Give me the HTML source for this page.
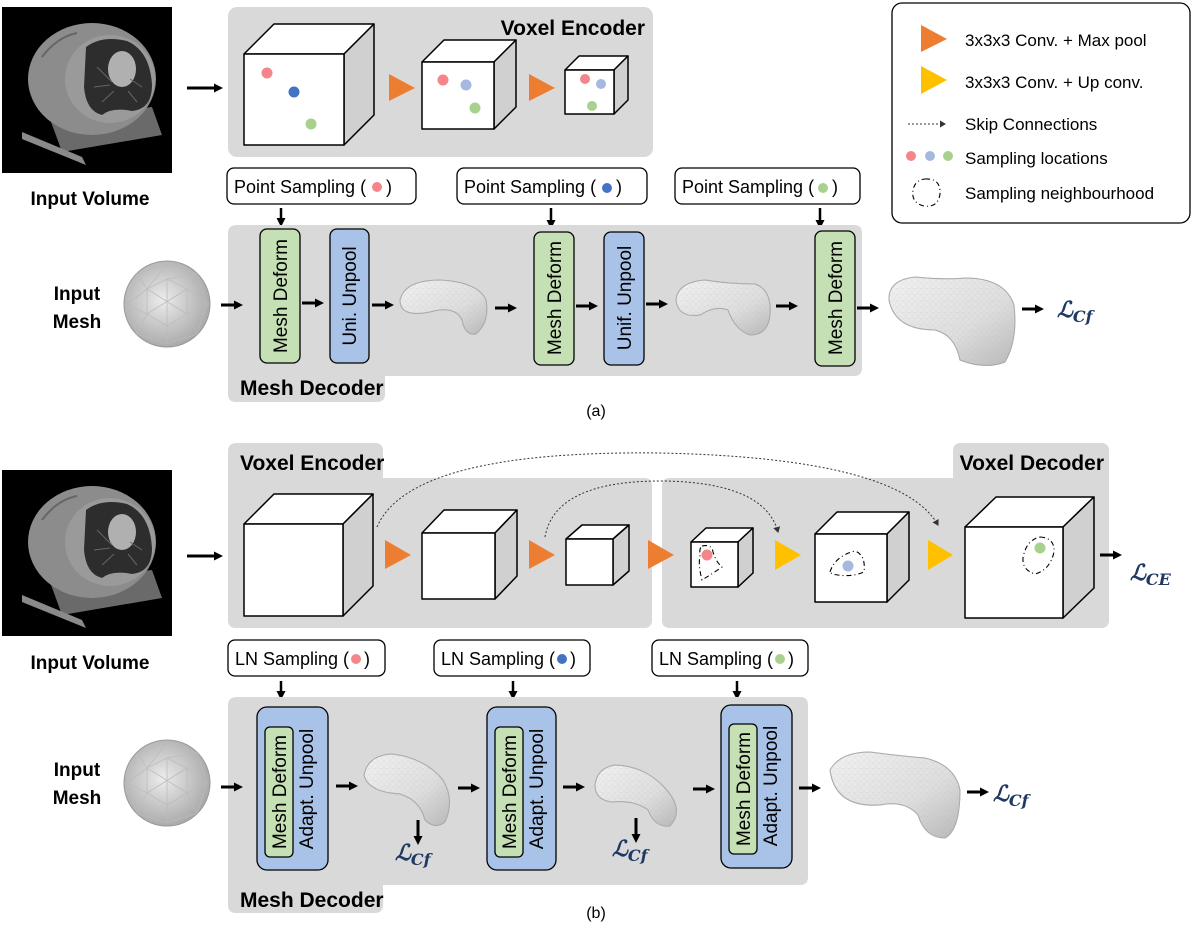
<!DOCTYPE html>
<html><head><meta charset="utf-8"><style>
html,body{margin:0;padding:0;background:#fff}
svg{display:block}
text{font-family:"Liberation Sans",sans-serif}
.b{font-weight:bold}
.L{font-family:"DejaVu Serif",serif;font-weight:bold;font-style:italic;fill:#1f3864}
</style></head><body>
<svg width="1193" height="929" viewBox="0 0 1193 929" xmlns="http://www.w3.org/2000/svg">
<defs>
<marker id="ah" markerWidth="9" markerHeight="9" refX="6" refY="4.5" orient="auto" markerUnits="userSpaceOnUse"><path d="M0,0 L9,4.5 L0,9 Z" fill="#000"/></marker>
<marker id="sh" markerWidth="7" markerHeight="7" refX="5" refY="3.5" orient="auto" markerUnits="userSpaceOnUse"><path d="M0,0 L6,3.5 L0,7 Z" fill="#333"/></marker>
<radialGradient id="sg" cx="45%" cy="45%" r="60%"><stop offset="0" stop-color="#ececec"/><stop offset="1" stop-color="#a5a5a5"/></radialGradient>
<linearGradient id="mg" x1="0" y1="0" x2="1" y2="1"><stop offset="0" stop-color="#f2f2f2"/><stop offset="0.6" stop-color="#dedede"/><stop offset="1" stop-color="#b8b8b8"/></linearGradient>
<pattern id="tri" width="6" height="6" patternUnits="userSpaceOnUse"><path d="M0,6 L3,0 L6,6 M0,0 H6" stroke="#bbb" stroke-width="0.4" fill="none"/></pattern>
<g id="ct">
<rect x="0" y="0" width="170" height="166" fill="#000"/>
<path d="M48,112 L150,100 L160,128 L60,145 Z" fill="#6a6a6a"/>
<path d="M20,125 L80,150 L84,158 L20,132 Z" fill="#8a8a8a"/>
<ellipse cx="90" cy="72" rx="64" ry="56" fill="#8c8c8c"/>
<ellipse cx="108" cy="72" rx="45" ry="44" fill="#9a9a9a"/>
<path d="M84,40 Q100,28 125,34 Q148,44 150,78 Q150,102 130,104 Q110,100 100,108 Q84,104 82,80 Z" fill="#2d2d2d"/>
<ellipse cx="120" cy="62" rx="14" ry="18" fill="#b0b0b0"/>
<path d="M95,60 L110,75 M92,80 L108,78 M100,95 L112,84 M140,80 L128,72 M135,95 L126,84" stroke="#666" stroke-width="1"/>
<path d="M40,50 Q55,30 75,26" stroke="#666" stroke-width="2" fill="none"/>
</g>
<g id="sph">
<circle cx="0" cy="0" r="43" fill="url(#sg)" stroke="#999" stroke-width="1"/>
<g stroke="#bbb" stroke-width="0.8" fill="none" opacity="0.9">
<path d="M-30,-30 L0,-40 L30,-30 L40,0 L30,30 L0,40 L-30,30 L-40,0 Z"/>
<path d="M-20,-15 L0,-25 L20,-15 L20,10 L0,22 L-20,10 Z"/>
<path d="M-40,0 L-20,-15 M-30,-30 L-20,-15 L0,-40 M0,-25 L30,-30 M20,-15 L40,0 L20,10 L30,30 M0,22 L0,40 M-20,10 L-30,30 M-20,10 L-40,0 M-20,-15 L20,10 M20,-15 L-20,10 M0,-25 L0,22"/>
</g>
</g>
</defs>

<!-- ================= (a) ================= -->
<use href="#ct" x="2" y="7"/>
<text x="90" y="205" class="b" font-size="19" text-anchor="middle">Input Volume</text>
<line x1="187" y1="88" x2="220" y2="88" stroke="#000" stroke-width="3" marker-end="url(#ah)"/>

<rect x="228" y="7" width="425" height="150" rx="9" fill="#d9d9d9"/>
<text x="645" y="35" class="b" font-size="21" text-anchor="end">Voxel Encoder</text>
<g stroke="#000" stroke-width="1.5" stroke-linejoin="round">
<polygon points="244,54 274,24 374,24 344,54" fill="#fff"/>
<polygon points="344,54 374,24 374,115 344,145" fill="#d0d0d0"/>
<rect x="244" y="54" width="100" height="91" fill="#fff"/>
<polygon points="422,62 444,40 516,40 494,62" fill="#fff"/>
<polygon points="494,62 516,40 516,107 494,129" fill="#d0d0d0"/>
<rect x="422" y="62" width="72" height="67" fill="#fff"/>
<polygon points="565,70 579,56 628,56 614,70" fill="#fff"/>
<polygon points="614,70 628,56 628,100 614,114" fill="#d0d0d0"/>
<rect x="565" y="70" width="49" height="44" fill="#fff"/>
</g>
<polygon points="389,74 415,88 389,101" fill="#ed7d31"/>
<polygon points="529,74 555,88 529,101" fill="#ed7d31"/>
<circle cx="267" cy="73" r="5.5" fill="#f4868a"/><circle cx="294" cy="92" r="5.5" fill="#4472c4"/><circle cx="311" cy="124" r="5.5" fill="#a9d18e"/>
<circle cx="443" cy="80" r="5.5" fill="#f4868a"/><circle cx="466" cy="85" r="5.5" fill="#a4b8e0"/><circle cx="475" cy="108" r="5.5" fill="#a9d18e"/>
<circle cx="585" cy="79" r="5" fill="#f4868a"/><circle cx="601" cy="84" r="5" fill="#a4b8e0"/><circle cx="592" cy="106" r="5" fill="#a9d18e"/>

<g fill="#fff" stroke="#000" stroke-width="1.3">
<rect x="227" y="168" width="189" height="36" rx="7"/>
<rect x="457" y="168" width="190" height="36" rx="7"/>
<rect x="675" y="168" width="185" height="36" rx="7"/>
</g>
<g font-size="18">
<text x="234" y="193">Point Sampling (</text><circle cx="377" cy="187" r="5" fill="#f4868a"/><text x="386" y="193">)</text>
<text x="464" y="193">Point Sampling (</text><circle cx="607" cy="188" r="5" fill="#4472c4"/><text x="616" y="193">)</text>
<text x="682" y="193">Point Sampling (</text><circle cx="823" cy="188" r="5" fill="#a9d18e"/><text x="832" y="193">)</text>
</g>
<g stroke="#000" stroke-width="2.5">
<line x1="281" y1="208" x2="281" y2="224" marker-end="url(#ah)"/>
<line x1="551" y1="208" x2="551" y2="226" marker-end="url(#ah)"/>
<line x1="820" y1="208" x2="820" y2="226" marker-end="url(#ah)"/>
</g>

<path d="M237,225 H854 Q862,225 862,233 V368 Q862,376 854,376 H385 V394 Q385,402 377,402 H236 Q228,402 228,394 V233 Q228,225 237,225 Z" fill="#d9d9d9"/>
<text x="240" y="395" class="b" font-size="21">Mesh Decoder</text>
<g stroke="#000" stroke-width="1.3">
<rect x="260" y="229" width="40" height="134" rx="7" fill="#c5e0b4"/>
<rect x="330" y="229" width="39" height="134" rx="7" fill="#a9c2e8"/>
<rect x="534" y="232" width="40" height="133" rx="7" fill="#c5e0b4"/>
<rect x="604" y="232" width="40" height="133" rx="7" fill="#a9c2e8"/>
<rect x="815" y="231" width="40" height="135" rx="7" fill="#c5e0b4"/>
</g>
<g font-size="19" text-anchor="middle">
<text transform="translate(287,296) rotate(-90)">Mesh Deform</text>
<text transform="translate(356,296) rotate(-90)">Uni. Unpool</text>
<text transform="translate(561,298) rotate(-90)">Mesh Deform</text>
<text transform="translate(631,298) rotate(-90)">Unif. Unpool</text>
<text transform="translate(842,298) rotate(-90)">Mesh Deform</text>
</g>
<text x="77" y="300" class="b" font-size="19" text-anchor="middle">Input</text>
<text x="77" y="328" class="b" font-size="19" text-anchor="middle">Mesh</text>
<use href="#sph" x="167" y="304"/>
<g stroke="#000" stroke-width="3">
<line x1="221" y1="305" x2="240" y2="305" marker-end="url(#ah)"/>
<line x1="302" y1="303" x2="321" y2="303" marker-end="url(#ah)"/>
<line x1="372" y1="305" x2="391" y2="305" marker-end="url(#ah)"/>
<line x1="495" y1="308" x2="514" y2="308" marker-end="url(#ah)"/>
<line x1="576" y1="306" x2="595" y2="306" marker-end="url(#ah)"/>
<line x1="646" y1="304" x2="665" y2="304" marker-end="url(#ah)"/>
<line x1="776" y1="306" x2="795" y2="306" marker-end="url(#ah)"/>
<line x1="857" y1="308" x2="876" y2="308" marker-end="url(#ah)"/>
<line x1="1022" y1="309" x2="1041" y2="309" marker-end="url(#ah)"/>
</g>
<g stroke="#aaa" stroke-width="1">
<path d="M400,300 Q405,280 440,280 Q478,282 486,300 Q490,322 476,334 Q465,336 462,320 Q455,305 430,312 Q400,318 400,300 Z" fill="url(#mg)"/>
<path d="M400,300 Q405,280 440,280 Q478,282 486,300 Q490,322 476,334 Q465,336 462,320 Q455,305 430,312 Q400,318 400,300 Z" fill="url(#tri)" opacity="0.4"/>
<path d="M676,300 Q678,282 705,280 Q730,284 755,284 Q772,290 770,315 Q768,335 750,335 Q735,330 728,310 Q715,305 700,315 Q678,318 676,300 Z" fill="url(#mg)"/>
<path d="M676,300 Q678,282 705,280 Q730,284 755,284 Q772,290 770,315 Q768,335 750,335 Q735,330 728,310 Q715,305 700,315 Q678,318 676,300 Z" fill="url(#tri)" opacity="0.4"/>
<path d="M889,300 Q888,280 915,277 Q945,280 965,278 Q1005,278 1014,305 Q1018,340 1005,362 Q985,370 960,360 Q955,335 935,330 Q895,330 889,300 Z" fill="url(#mg)"/>
<path d="M889,300 Q888,280 915,277 Q945,280 965,278 Q1005,278 1014,305 Q1018,340 1005,362 Q985,370 960,360 Q955,335 935,330 Q895,330 889,300 Z" fill="url(#tri)" opacity="0.4"/>
</g>
<text x="1057" y="317" class="L" font-size="22">ℒ<tspan font-size="16" dy="5">Cf</tspan></text>
<text x="596" y="416" font-size="16" text-anchor="middle">(a)</text>

<!-- legend -->
<rect x="892" y="3" width="298" height="220" rx="10" fill="#fff" stroke="#000" stroke-width="1.3"/>
<polygon points="921,25 947,39 921,52" fill="#ed7d31"/>
<polygon points="921,66 947,80 921,94" fill="#ffc000"/>
<line x1="908" y1="124" x2="945" y2="124" stroke="#333" stroke-width="1" stroke-dasharray="2,2" marker-end="url(#sh)"/>
<circle cx="911" cy="156" r="5" fill="#f4868a"/><circle cx="930" cy="156" r="5" fill="#a4b8e0"/><circle cx="948" cy="156" r="5" fill="#a9d18e"/>
<path d="M925,179 Q941,178 940,194 Q938,208 924,206 Q911,203 913,190 Q915,180 925,179 Z" fill="none" stroke="#000" stroke-width="1.1" stroke-dasharray="5,3,1,3"/>
<g font-size="17">
<text x="965" y="46">3x3x3 Conv. + Max pool</text>
<text x="965" y="88">3x3x3 Conv. + Up conv.</text>
<text x="965" y="130">Skip Connections</text>
<text x="965" y="164">Sampling locations</text>
<text x="965" y="199">Sampling neighbourhood</text>
</g>

<!-- ================= (b) ================= -->
<use href="#ct" x="2" y="470"/>
<text x="90" y="669" class="b" font-size="19" text-anchor="middle">Input Volume</text>
<line x1="187" y1="556" x2="220" y2="556" stroke="#000" stroke-width="3" marker-end="url(#ah)"/>

<path d="M237,443 H375 Q383,443 383,451 V478 H644 Q652,478 652,486 V620 Q652,628 644,628 H236 Q228,628 228,620 V451 Q228,443 237,443 Z" fill="#d9d9d9"/>
<text x="240" y="470" class="b" font-size="21">Voxel Encoder</text>
<path d="M670,478 H953 V451 Q953,443 961,443 H1101 Q1109,443 1109,451 V620 Q1109,628 1101,628 H670 Q662,628 662,620 V486 Q662,478 670,478 Z" fill="#d9d9d9"/>
<text x="1104" y="470" class="b" font-size="21" text-anchor="end">Voxel Decoder</text>

<g stroke="#000" stroke-width="1.5" stroke-linejoin="round">
<polygon points="244,524 274,494 373,494 343,524" fill="#fff"/>
<polygon points="343,524 373,494 373,586 343,616" fill="#d0d0d0"/>
<rect x="244" y="524" width="99" height="92" fill="#fff"/>
<polygon points="422,533 444,510 517,510 495,533" fill="#fff"/>
<polygon points="495,533 517,510 517,576 495,599" fill="#d0d0d0"/>
<rect x="422" y="533" width="73" height="66" fill="#fff"/>
<polygon points="566,539 582,525 629,525 613,539" fill="#fff"/>
<polygon points="613,539 629,525 629,571 613,585" fill="#d0d0d0"/>
<rect x="566" y="539" width="47" height="46" fill="#fff"/>
<polygon points="691,542 706,528 753,528 738,542" fill="#fff"/>
<polygon points="738,542 753,528 753,573 738,587" fill="#d0d0d0"/>
<rect x="691" y="542" width="47" height="45" fill="#fff"/>
<polygon points="815,534 837,512 909,512 887,534" fill="#fff"/>
<polygon points="887,534 909,512 909,580 887,602" fill="#d0d0d0"/>
<rect x="815" y="534" width="72" height="68" fill="#fff"/>
<polygon points="965,527 996,497 1094,497 1063,527" fill="#fff"/>
<polygon points="1063,527 1094,497 1094,588 1063,618" fill="#d0d0d0"/>
<rect x="965" y="527" width="98" height="91" fill="#fff"/>
</g>
<polygon points="385,540 411,555 385,569" fill="#ed7d31"/>
<polygon points="529,540 555,555 529,569" fill="#ed7d31"/>
<polygon points="648,540 674,555 648,569" fill="#ed7d31"/>
<polygon points="775,540 801,555 775,570" fill="#ffc000"/>
<polygon points="928,540 953,555 928,570" fill="#ffc000"/>

<circle cx="707" cy="555" r="5.5" fill="#f4868a"/>
<path d="M702,546 Q712,544 713,552 Q716,562 722,567 Q712,574 702,580 Q698,565 700,556 Q699,548 702,546 Z" fill="none" stroke="#000" stroke-width="1.1" stroke-dasharray="5,3,1,3"/>
<circle cx="848" cy="566" r="5.5" fill="#a4b8e0"/>
<path d="M830,572 Q835,556 855,551 Q866,555 864,572 Q850,578 832,574 Z" fill="none" stroke="#000" stroke-width="1.1" stroke-dasharray="5,3,1,3"/>
<circle cx="1040" cy="548" r="5.5" fill="#a9d18e"/>
<path d="M1040,537 Q1055,538 1054,552 Q1050,570 1035,574 Q1022,570 1023,558 Q1026,540 1040,537 Z" fill="none" stroke="#000" stroke-width="1.1" stroke-dasharray="5,3,1,3"/>

<path d="M377,527 Q410,450 660,453 Q900,458 938,525" fill="none" stroke="#333" stroke-width="1" stroke-dasharray="2,2" marker-end="url(#sh)"/>
<path d="M545,537 Q555,480 665,481 Q765,483 778,532" fill="none" stroke="#333" stroke-width="1" stroke-dasharray="2,2" marker-end="url(#sh)"/>
<line x1="1100" y1="555" x2="1119" y2="555" stroke="#000" stroke-width="3" marker-end="url(#ah)"/>
<text x="1130" y="580" class="L" font-size="22">ℒ<tspan font-size="16" dy="5">CE</tspan></text>

<g fill="#fff" stroke="#000" stroke-width="1.3">
<rect x="228" y="640" width="157" height="36" rx="7"/>
<rect x="434" y="640" width="156" height="36" rx="7"/>
<rect x="652" y="640" width="156" height="36" rx="7"/>
</g>
<g font-size="18">
<text x="235" y="665">LN Sampling (</text><circle cx="356" cy="659" r="5" fill="#f4868a"/><text x="364" y="665">)</text>
<text x="441" y="665">LN Sampling (</text><circle cx="562" cy="659" r="5" fill="#4472c4"/><text x="570" y="665">)</text>
<text x="659" y="665">LN Sampling (</text><circle cx="780" cy="659" r="5" fill="#a9d18e"/><text x="788" y="665">)</text>
</g>
<g stroke="#000" stroke-width="2.5">
<line x1="281" y1="681" x2="281" y2="697" marker-end="url(#ah)"/>
<line x1="513" y1="681" x2="513" y2="697" marker-end="url(#ah)"/>
<line x1="737" y1="681" x2="737" y2="697" marker-end="url(#ah)"/>
</g>
<path d="M237,697 H800 Q808,697 808,705 V877 Q808,885 800,885 H383 V905 Q383,913 375,913 H236 Q228,913 228,905 V705 Q228,697 237,697 Z" fill="#d9d9d9"/>
<text x="240" y="907" class="b" font-size="21">Mesh Decoder</text>
<g stroke="#000" stroke-width="1.3">
<rect x="257" y="707" width="71" height="163" rx="10" fill="#a9c2e8"/>
<rect x="265" y="727" width="28" height="130" rx="5" fill="#c5e0b4"/>
<rect x="487" y="707" width="69" height="163" rx="10" fill="#a9c2e8"/>
<rect x="495" y="727" width="28" height="130" rx="5" fill="#c5e0b4"/>
<rect x="721" y="705" width="71" height="163" rx="10" fill="#a9c2e8"/>
<rect x="729" y="724" width="28" height="130" rx="5" fill="#c5e0b4"/>
</g>
<g font-size="19" text-anchor="middle">
<text transform="translate(286,792) rotate(-90)">Mesh Deform</text>
<text transform="translate(313,789) rotate(-90)">Adapt. Unpool</text>
<text transform="translate(516,792) rotate(-90)">Mesh Deform</text>
<text transform="translate(543,789) rotate(-90)">Adapt. Unpool</text>
<text transform="translate(750,789) rotate(-90)">Mesh Deform</text>
<text transform="translate(777,786) rotate(-90)">Adapt. Unpool</text>
</g>
<text x="77" y="776" class="b" font-size="19" text-anchor="middle">Input</text>
<text x="77" y="804" class="b" font-size="19" text-anchor="middle">Mesh</text>
<use href="#sph" x="167" y="783"/>
<g stroke="#000" stroke-width="3">
<line x1="221" y1="787" x2="240" y2="787" marker-end="url(#ah)"/>
<line x1="336" y1="786" x2="355" y2="786" marker-end="url(#ah)"/>
<line x1="458" y1="788" x2="477" y2="788" marker-end="url(#ah)"/>
<line x1="563" y1="787" x2="582" y2="787" marker-end="url(#ah)"/>
<line x1="693" y1="789" x2="712" y2="789" marker-end="url(#ah)"/>
<line x1="799" y1="788" x2="818" y2="788" marker-end="url(#ah)"/>
<line x1="967" y1="792" x2="986" y2="792" marker-end="url(#ah)"/>
<line x1="418" y1="820" x2="418" y2="842" marker-end="url(#ah)"/>
<line x1="636" y1="818" x2="636" y2="840" marker-end="url(#ah)"/>
</g>
<g stroke="#aaa" stroke-width="1">
<path d="M364,775 Q368,755 392,754 Q425,758 443,780 Q455,800 445,822 Q435,830 425,820 Q420,800 400,794 Q368,792 364,775 Z" fill="url(#mg)"/>
<path d="M364,775 Q368,755 392,754 Q425,758 443,780 Q455,800 445,822 Q435,830 425,820 Q420,800 400,794 Q368,792 364,775 Z" fill="url(#tri)" opacity="0.4"/>
<path d="M595,785 Q597,768 615,765 Q645,766 665,788 Q685,810 670,826 Q655,828 648,810 Q635,800 612,802 Q595,800 595,785 Z" fill="url(#mg)"/>
<path d="M595,785 Q597,768 615,765 Q645,766 665,788 Q685,810 670,826 Q655,828 648,810 Q635,800 612,802 Q595,800 595,785 Z" fill="url(#tri)" opacity="0.4"/>
<path d="M830,770 Q840,752 870,752 Q900,756 925,758 Q955,765 960,790 Q960,830 945,838 Q925,838 918,815 Q905,800 880,805 Q835,808 830,770 Z" fill="url(#mg)"/>
<path d="M830,770 Q840,752 870,752 Q900,756 925,758 Q955,765 960,790 Q960,830 945,838 Q925,838 918,815 Q905,800 880,805 Q835,808 830,770 Z" fill="url(#tri)" opacity="0.4"/>
</g>
<text x="395" y="860" class="L" font-size="22">ℒ<tspan font-size="16" dy="5">Cf</tspan></text>
<text x="612" y="856" class="L" font-size="22">ℒ<tspan font-size="16" dy="5">Cf</tspan></text>
<text x="993" y="801" class="L" font-size="22">ℒ<tspan font-size="16" dy="5">Cf</tspan></text>
<text x="596" y="918" font-size="16" text-anchor="middle">(b)</text>
</svg>
</body></html>
